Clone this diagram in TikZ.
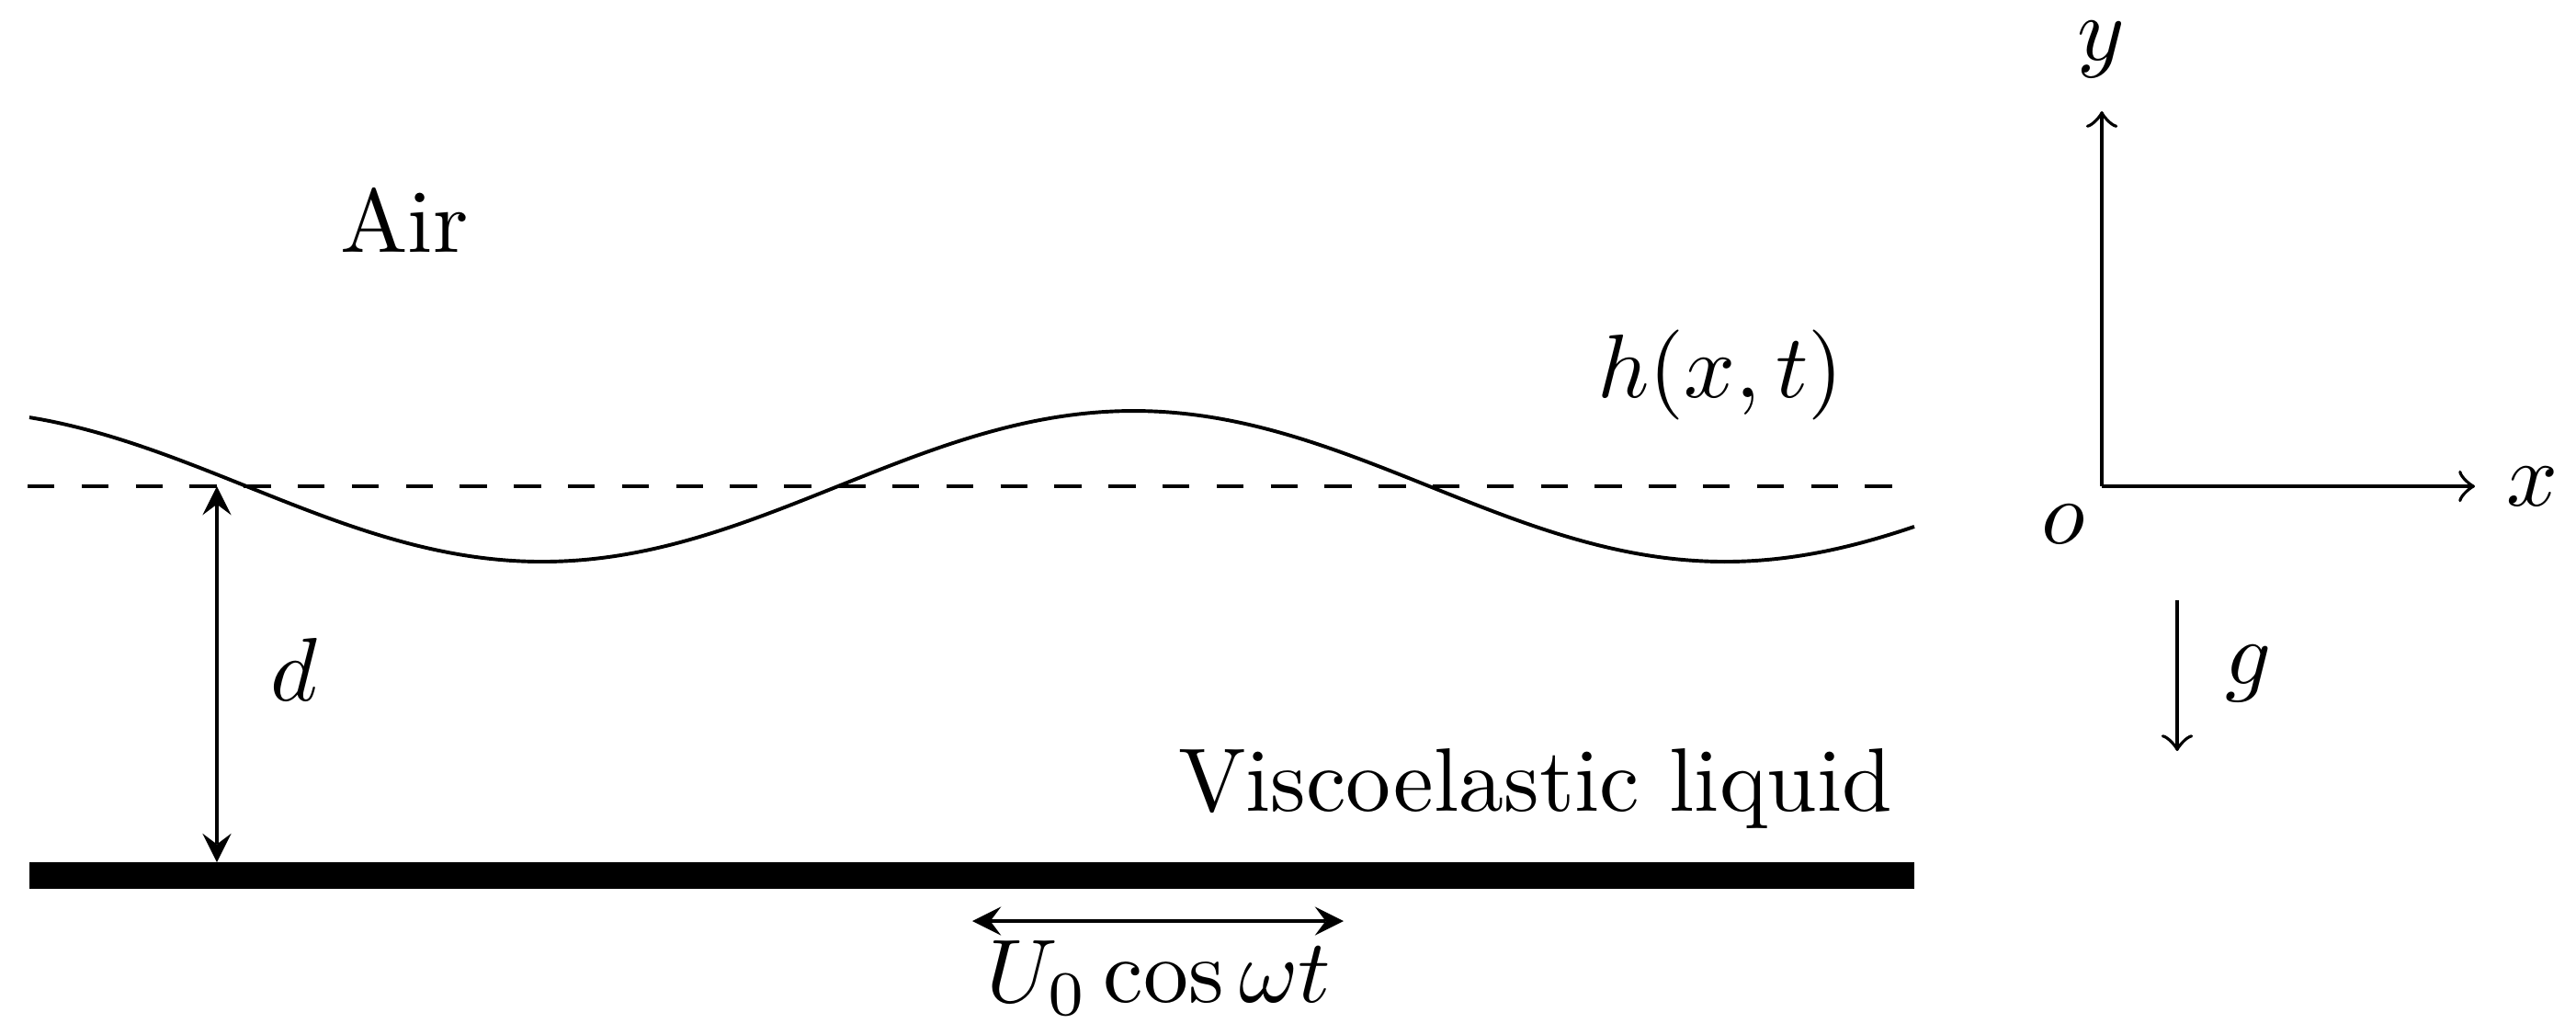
\documentclass[tikz,border=0pt]{standalone}
\usetikzlibrary{arrows}
\tikzset{wall/.style={line width=3pt},dimarrow/.style={<->,>=stealth}}

\begin{document}
\begin{tikzpicture}[x=0.3586cm,y=0.3586cm]
		\useasboundingbox (0,0) rectangle (28.03,11.25);

		\coordinate (m1) at (0.30,5.96);
		\coordinate (m2) at (20.83,5.96);
		\draw[dashed] (m1) -- (m2);
		\draw[domain=0.32:20.83,samples=150,smooth] plot (\x,{5.96-0.82*cos(360*(\x-5.90)/12.87)});

		\coordinate (w1) at (0.32,1.725);
		\coordinate (w2) at (20.83,1.725);
		\draw[wall] (w1) -- (w2);

		\coordinate (d1) at (2.36,1.87);
		\coordinate (d2) at (2.36,5.96);
		\draw[dimarrow] (d1) -- (d2);
		\node[anchor=base] (dl) at (3.195,3.63) {$d$};

		\coordinate (u1) at (10.58,1.23);
		\coordinate (u2) at (14.62,1.23);
		\draw[dimarrow] (u1) -- (u2);
		\node[anchor=base] (ul) at (12.61,0.35) {$U_0\cos\omega t$};

		\node[anchor=base] (air) at (4.40,8.51) {Air};
		\node[anchor=base] (hl) at (18.72,6.93) {$h(x,t)$};
		\node[anchor=base] (liq) at (16.705,2.43) {Viscoelastic liquid};

		\coordinate (o) at (22.87,5.96);
		\coordinate (ya) at (22.87,10.04);
		\coordinate (xa) at (26.93,5.96);
		\draw[->] (o) -- (ya);
		\draw[->] (o) -- (xa);
		\node (yl) at (22.86,10.71) {$y$};
		\node (xl) at (27.55,5.96) {$x$};
		\node (ol) at (22.45,5.55) {$o$};

		\coordinate (g1) at (23.69,4.72);
		\coordinate (g2) at (23.69,3.08);
		\draw[->] (g1) -- (g2);
		\node (gl) at (24.47,3.92) {$g$};
\end{tikzpicture}
\end{document}
